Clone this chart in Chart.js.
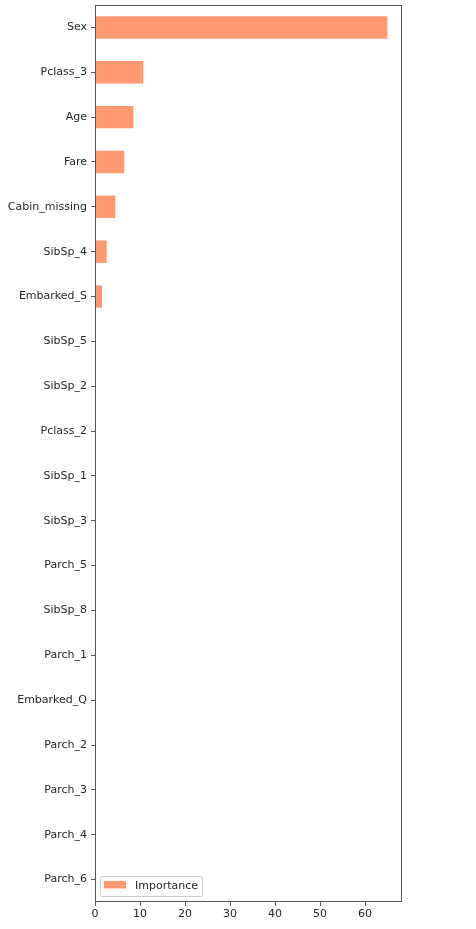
<!DOCTYPE html>
<html>
<head>
<meta charset="utf-8">
<script src="https://cdn.jsdelivr.net/npm/chart.js@4.4.0/dist/chart.umd.min.js"></script>
<style>
  html, body { margin: 0; padding: 0; background: #fff; }
  canvas { display: block; }
</style>
</head>
<body>
<canvas id="myChart" width="476" height="929"></canvas>
<script>
// feature importances, top to bottom
var features = ['Sex', 'Pclass_3', 'Age', 'Fare', 'Cabin_missing', 'SibSp_4', 'Embarked_S',
    'SibSp_5', 'SibSp_2', 'Pclass_2', 'SibSp_1', 'SibSp_3', 'Parch_5', 'SibSp_8',
    'Parch_1', 'Embarked_Q', 'Parch_2', 'Parch_3', 'Parch_4', 'Parch_6'];
var importance = [64.95, 10.7, 8.5, 6.5, 4.5, 2.6, 1.55,
    0, 0, 0, 0, 0, 0, 0, 0, 0, 0, 0, 0, 0];
var xTicks = [0, 10, 20, 30, 40, 50, 60];
var xMax = 68.2;

var barColor = '#FF9A70';
var textColor = '#262626';
var spineColor = '#555555';

// box round plot + legend inside lower left, matplotlib style
var framePlugin = {
    id: 'frame',
    afterDraw: function(chart) {
        var ctx = chart.ctx;
        var a = chart.chartArea;
        ctx.save();
        ctx.strokeStyle = spineColor;
        ctx.lineWidth = 1;
        ctx.strokeRect(a.left + 0.5, a.top + 0.5, a.right - a.left - 1, a.bottom - a.top - 1);

        // legend
        var ds = chart.data.datasets[0];
        var bx = a.left + 5, by = a.bottom - 26, bw = 102, bh = 20;
        ctx.fillStyle = 'rgba(255,255,255,0.8)';
        ctx.strokeStyle = '#cccccc';
        ctx.beginPath();
        ctx.roundRect(bx + 0.5, by + 0.5, bw, bh, 2);
        ctx.fill();
        ctx.stroke();
        ctx.fillStyle = ds.backgroundColor;
        ctx.fillRect(bx + 4, by + 5, 22, 7.5);
        ctx.fillStyle = textColor;
        ctx.font = '11px "DejaVu Sans"';
        ctx.textBaseline = 'middle';
        ctx.textAlign = 'left';
        ctx.fillText(ds.label, bx + 35, by + 10.5);
        ctx.restore();
    }
};

var ctx = document.getElementById('myChart').getContext('2d');
var chart = new Chart(ctx, {
    type: 'bar',
    data: {
        labels: features,
        datasets: [{
            label: 'Importance',
            data: importance,
            backgroundColor: barColor,
            borderWidth: 0,
            barPercentage: 0.5,
            categoryPercentage: 1.0
        }]
    },
    options: {
        indexAxis: 'y',
        responsive: false,
        animation: false,
        layout: {
            padding: { top: 5, right: 74, left: 0, bottom: 0 }
        },
        plugins: {
            legend: { display: false },
            tooltip: { enabled: false }
        },
        scales: {
            x: {
                type: 'linear',
                min: 0,
                max: xMax,
                border: { display: false },
                grid: {
                    drawOnChartArea: false,
                    tickLength: 4,
                    tickColor: spineColor
                },
                afterBuildTicks: function(scale) {
                    scale.ticks = xTicks.map(function(v) { return { value: v }; });
                },
                afterFit: function(scale) {
                    scale.height = 27;
                    scale.paddingLeft = 0;
                    scale.paddingRight = 0;
                },
                ticks: {
                    color: textColor,
                    font: { family: 'DejaVu Sans', size: 11 },
                    padding: 2,
                    maxRotation: 0
                }
            },
            y: {
                border: { display: false },
                grid: {
                    offset: false,
                    drawOnChartArea: false,
                    tickLength: 4,
                    tickColor: spineColor
                },
                afterFit: function(scale) {
                    scale.width = 95;
                    scale.paddingTop = 0;
                    scale.paddingBottom = 0;
                },
                ticks: {
                    color: textColor,
                    font: { family: 'DejaVu Sans', size: 11 },
                    padding: 4,
                    autoSkip: false
                }
            }
        }
    },
    plugins: [framePlugin]
});
</script>
</body>
</html>
